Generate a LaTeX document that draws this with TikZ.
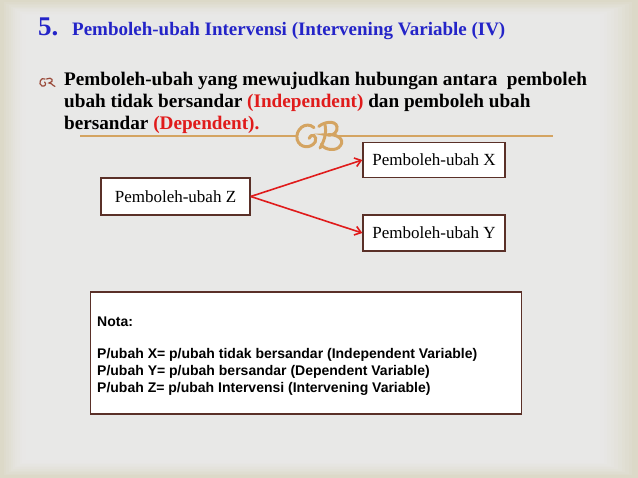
\documentclass[tikz,border=0pt]{standalone}
\usepackage{fontspec}
\setmainfont{Liberation Serif}
\setsansfont{Liberation Sans}
\usetikzlibrary{arrows.meta}
\definecolor{beige}{HTML}{DCD9C8}
\definecolor{slide}{HTML}{E8E8E7}
\definecolor{titleblue}{HTML}{2424C8}
\definecolor{redtxt}{HTML}{E01B1B}
\definecolor{boxbrown}{HTML}{5A3028}
\definecolor{ornagold}{HTML}{D4A462}
\definecolor{bulletred}{HTML}{9A4A3A}
\tikzset{
  varbox/.style={draw=boxbrown, line width=1.4pt, fill=white, minimum width=142pt, minimum height=35pt, inner sep=0pt, font=\fontsize{17}{19}\selectfont},
  redarrow/.style={draw=redtxt, line width=1.6pt, -{Straight Barb[length=6pt,width=9pt]}},
  bodytext/.style={anchor=base west, inner sep=0pt, font=\fontsize{19.2}{22}\selectfont\bfseries},
  notatext/.style={anchor=base west, inner sep=0pt, font=\sffamily\bfseries\fontsize{14}{16}\selectfont},
  ornament/.style={draw=ornagold, line width=3pt, line cap=round},
  bulletorn/.style={draw=bulletred, line width=1.2pt, line cap=round}
}
\begin{document}
\begin{tikzpicture}[x=1pt,y=-1pt]
\useasboundingbox (0,0) rectangle (638,478);
% background
\fill[beige] (0,0) rectangle (638,478);
\foreach \i/\p in {1/85,2/72,3/60,4/48,5/37,6/27,7/18,8/10,9/4}{
  \fill[color=beige!\p!slide] (2+2.2*\i,1+1.4*\i) rectangle (636-3.6*\i,477-1.6*\i);
}
\fill[slide] (26,15) rectangle (600,460);
% title
\node[anchor=base west, inner sep=0pt, text=titleblue, font=\fontsize{27}{30}\selectfont\bfseries] (num) at (38,36) {5.};
\node[anchor=base west, inner sep=0pt, text=titleblue, font=\fontsize{19}{22}\selectfont\bfseries] (title) at (72,36) {Pemboleh-ubah Intervensi (Intervening Variable (IV)};
% bullet ornament
\draw[bulletorn] (45,79) .. controls (41,76.5) and (37.5,84) .. (42,86) .. controls (45,87) and (47,83.5) .. (44.5,82);
\draw[bulletorn] (46.5,79) .. controls (52,76) and (55,82) .. (49,83) .. controls (53,83.5) and (53.5,87) .. (55,86.5);
\node[bodytext] (l1) at (64,86) {Pemboleh-ubah yang mewujudkan hubungan antara\ \ pemboleh};
\node[bodytext] (l2) at (64,108) {ubah tidak bersandar \textcolor{redtxt}{(Independent)} dan pemboleh ubah};
\node[bodytext] (l3) at (64,130) {bersandar \textcolor{redtxt}{(Dependent).}};
% divider
\draw[ornagold, line width=1.4pt] (80,136) -- (298,136);
\draw[ornagold, line width=1.4pt] (338,136) -- (553,136);
\begin{scope}[shift={(0,4)}, scale around={1.2:(320,132)}]
\draw[ornament] (315,125) .. controls (308,119) and (299,127) .. (301,135) .. controls (303,142) and (312,143) .. (316,137) .. controls (318,132) and (313,129) .. (311,134);
\draw[ornament] (319,124) .. controls (325,119) and (336,119) .. (334,127) .. controls (333,131) and (328,132) .. (326,131) .. controls (334,130) and (341,135) .. (337,140) .. controls (334,145) and (324,144) .. (321,139);
\draw[ornament] (324,122) .. controls (326,130) and (323,137) .. (320,142);
\end{scope}
% boxes
\node[varbox] (X) at (434,160) {Pemboleh-ubah X};
\node[varbox, minimum width=149pt, minimum height=37pt] (Z) at (175.5,196.5) {Pemboleh-ubah Z};
\node[varbox, minimum height=36pt] (Y) at (434,233) {Pemboleh-ubah Y};
\draw[redarrow] (Z.east) -- (X.west);
\draw[redarrow] (Z.east) -- (Y.west);
% nota
\node[draw=boxbrown, line width=1.2pt, fill=white, minimum width=431pt, minimum height=122pt, inner sep=0pt] (nota) at (306,353) {};
\node[notatext] (n0) at (97,327) {Nota:};
\node[notatext] (n1) at (97,359) {P/ubah X= p/ubah tidak bersandar (Independent Variable)};
\node[notatext] (n2) at (97,376) {P/ubah Y= p/ubah bersandar (Dependent Variable)};
\node[notatext] (n3) at (97,393) {P/ubah Z= p/ubah Intervensi (Intervening Variable)};
\end{tikzpicture}
\end{document}
